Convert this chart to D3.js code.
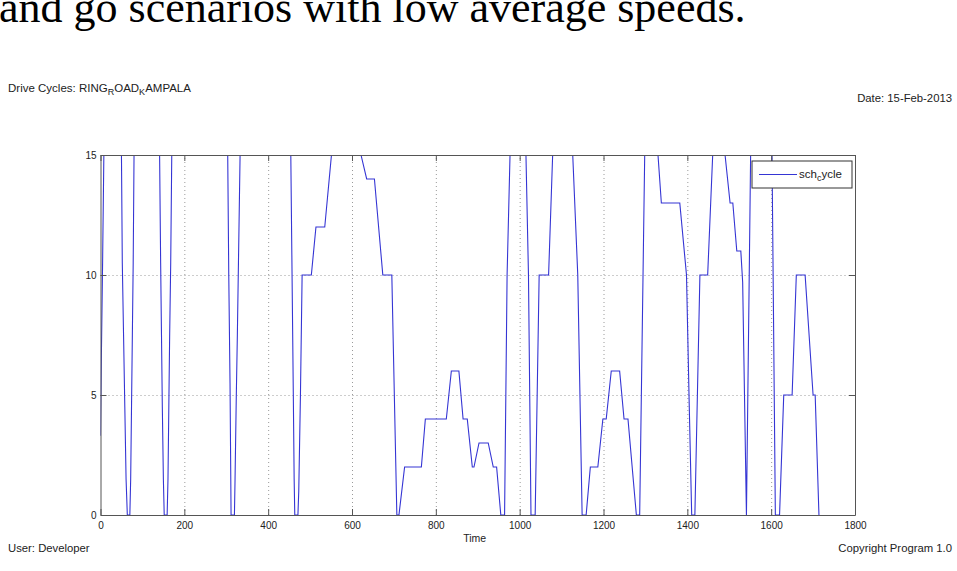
<!DOCTYPE html>
<html>
<head>
<meta charset="utf-8">
<script src="https://cdn.jsdelivr.net/npm/d3@7"></script>
<style>
  body { margin: 0; background: #fff; }
  svg { display: block; }
  text { font-family: "Liberation Sans", Arial, sans-serif; fill: #222; }
  .caption { font-family: "Liberation Serif", "Times New Roman", serif; fill: #000; }
</style>
</head>
<body>
<svg id="chart" width="957" height="571"></svg>
<script>
// drive cycle (values above 15 run off the top of the axes)
const times = [
  0, 2, 5, 8, 11, 30, 47.5, 50, 52, 55, 58, 61, 64, 70, 72, 74, 76, 78, 80, 83,
  110, 138, 141, 143.5, 145.5, 147.5, 150, 152, 159, 161, 163, 165, 167.5, 170, 173,
  236, 300, 303.5, 306, 309, 311.5, 319.5, 321, 324, 326.5, 333, 336,
  390, 450, 454, 457, 460, 462, 463.5, 471, 473, 477, 481, 503, 514, 535, 551,
  565, 605, 621.5, 635, 653.5, 673.5, 695, 707, 712, 725.5, 765.5, 775, 825, 837,
  855, 865, 875, 887, 891, 903, 925, 937, 945, 955, 964, 970, 977, 981,
  996, 1010.5, 1015, 1021, 1027, 1037, 1046.5, 1069, 1078.7, 1083, 1100, 1122, 1126.6,
  1138.6, 1149, 1158.6, 1168.6, 1186.5, 1198.5, 1206.5, 1218.5, 1238.5, 1249, 1258.4,
  1278.4, 1286.3, 1298.3, 1302, 1308, 1318, 1330, 1338, 1382, 1398, 1404, 1410.4,
  1418, 1430, 1448.5, 1460.5, 1470, 1480, 1490, 1502, 1508.5, 1518, 1527.6, 1532,
  1541, 1551, 1554, 1576, 1598, 1602, 1610, 1620, 1630, 1650, 1660, 1681, 1700,
  1705, 1714
]
const speeds = [
  3.3, 6.5, 10.5, 15, 20, 28, 20, 15, 10.5, 7.5, 4.5, 1.5, 0, 0, 1.5, 4.5, 7.5, 10.5, 15, 20,
  30, 20, 15, 10.5, 7.5, 4.5, 1.5, 0, 0, 1.5, 4.5, 7.5, 10.5, 15, 20,
  35, 20, 15, 10, 5.5, 0, 0, 1.5, 5, 7.5, 15, 20,
  35, 20, 15, 10, 5, 1.5, 0, 0, 1, 5, 10, 10, 12, 12, 15,
  16.5, 16.5, 15, 14, 14, 10, 10, 0, 0, 2, 2, 4, 4, 6,
  6, 4, 4, 2, 2, 3, 3, 2, 2, 0, 0, 10, 15, 20,
  30, 20, 15, 10, 0, 0, 10, 10, 15, 20, 25, 20, 15,
  10, 0, 0, 2, 2, 4, 4, 6, 6, 4, 4,
  0, 0, 15, 19, 19, 18, 15, 13, 13, 10, 5, 0,
  0, 10, 10, 15, 17, 17, 15, 13, 13, 11, 11, 9.7,
  0, 15, 20, 25, 20, 15, 0, 0, 5, 5, 10, 10, 5,
  5, 0
]
const xTicks = [0, 200, 400, 600, 800, 1000, 1200, 1400, 1600, 1800]
const yTicks = [0, 5, 10, 15]
const seriesName = ['sch', 'c', 'ycle']
const titleParts = ['Drive Cycles: RING', 'R', 'OAD', 'K', 'AMPALA']

const svg = d3.select('#chart')
const plot = { left: 100.5, right: 855, top: 155, bottom: 515 }
const lineColor = '#3535d4'

const x = d3.scaleLinear().domain([0, 1800]).range([plot.left, plot.right])
const y = d3.scaleLinear().domain([0, 15]).range([plot.bottom, plot.top])

// text above the figure (cut off by the page edge, as in the source)
svg.append('text')
    .attr('class', 'caption')
    .attr('x', -1)
    .attr('y', 22)
    .attr('font-size', 44)
    .text('and go scenarios with low average speeds.')

// header / footer
const title = svg.append('text').attr('x', 8).attr('y', 92).attr('font-size', 11.5)
titleParts.forEach((p, i) => {
  const sub = i % 2 === 1
  title.append('tspan')
      .attr('font-size', sub ? 9 : 11.5)
      .attr('dy', i === 0 ? 0 : (sub ? 3 : -3))
      .text(p)
})

svg.append('text').attr('x', 952).attr('y', 102).attr('font-size', 11.3)
    .attr('text-anchor', 'end').text('Date: 15-Feb-2013')
svg.append('text').attr('x', 8).attr('y', 552).attr('font-size', 11.3)
    .text('User: Developer')
svg.append('text').attr('x', 952).attr('y', 552).attr('font-size', 11.3)
    .attr('text-anchor', 'end').text('Copyright Program 1.0')

// grid
svg.append('g')
    .attr('transform', 'translate(0,' + plot.bottom + ')')
    .call(d3.axisBottom(x).tickValues(xTicks.slice(1, -1)).tickSize(-(plot.bottom - plot.top)).tickFormat(''))
    .call(g => g.select('.domain').remove())
    .call(g => g.selectAll('line').attr('stroke', '#9a9a9a').attr('stroke-dasharray', '1,3'))

svg.append('g')
    .attr('transform', 'translate(' + plot.left + ',0)')
    .call(d3.axisLeft(y).tickValues(yTicks.slice(1, -1)).tickSize(-(plot.right - plot.left)).tickFormat(''))
    .call(g => g.select('.domain').remove())
    .call(g => g.selectAll('line').attr('stroke', '#9a9a9a').attr('stroke-dasharray', '1,3'))

// data line
svg.append('clipPath').attr('id', 'plot-clip')
    .append('rect')
    .attr('x', plot.left).attr('y', plot.top)
    .attr('width', plot.right - plot.left).attr('height', plot.bottom - plot.top)

const line = d3.line()
    .x((d, i) => x(times[i]))
    .y(d => y(d))

svg.append('path')
    .datum(speeds)
    .attr('clip-path', 'url(#plot-clip)')
    .attr('fill', 'none')
    .attr('stroke', lineColor)
    .attr('stroke-width', 1.1)
    .attr('d', line)

// axes with inward ticks on all four sides
const tickLen = 6
const fmt = d3.format('d')
const styleAxis = g => {
  g.select('.domain').attr('stroke', '#555')
  g.selectAll('.tick line').attr('stroke', '#555')
  g.selectAll('.tick text').attr('font-size', 10).attr('fill', '#222')
    .attr('font-family', '"Liberation Sans", Arial, sans-serif')
}

svg.append('g')
    .attr('transform', 'translate(0,' + plot.bottom + ')')
    .call(d3.axisBottom(x).tickValues(xTicks).tickFormat(fmt).tickSizeInner(-tickLen).tickSizeOuter(0).tickPadding(7))
    .call(styleAxis)

svg.append('g')
    .attr('transform', 'translate(0,' + plot.top + ')')
    .call(d3.axisTop(x).tickValues(xTicks).tickSizeInner(-tickLen).tickSizeOuter(0).tickFormat(''))
    .call(styleAxis)

svg.append('g')
    .attr('transform', 'translate(' + plot.left + ',0)')
    .call(d3.axisLeft(y).tickValues(yTicks).tickFormat(fmt).tickSizeInner(-tickLen).tickSizeOuter(0).tickPadding(4))
    .call(styleAxis)

svg.append('g')
    .attr('transform', 'translate(' + plot.right + ',0)')
    .call(d3.axisRight(y).tickValues(yTicks).tickSizeInner(-tickLen).tickSizeOuter(0).tickFormat(''))
    .call(styleAxis)

svg.append('text')
    .attr('x', (plot.left + plot.right) / 2 - 3).attr('y', 542)
    .attr('font-size', 10.5).attr('text-anchor', 'middle')
    .text('Time')

// legend
const legend = svg.append('g')
legend.append('rect')
    .attr('x', 752).attr('y', 161).attr('width', 100).attr('height', 27)
    .attr('fill', '#fff').attr('stroke', '#333')
legend.append('line')
    .attr('x1', 759).attr('x2', 797).attr('y1', 174.5).attr('y2', 174.5)
    .attr('stroke', lineColor).attr('stroke-width', 1.1)
const lt = legend.append('text').attr('x', 799).attr('y', 178).attr('font-size', 11.5)
seriesName.forEach((p, i) => {
  const sub = i === 1
  lt.append('tspan')
      .attr('font-size', sub ? 9 : 11.5)
      .attr('dy', i === 0 ? 0 : (sub ? 3 : -3))
      .text(p)
})
</script>
</body>
</html>
